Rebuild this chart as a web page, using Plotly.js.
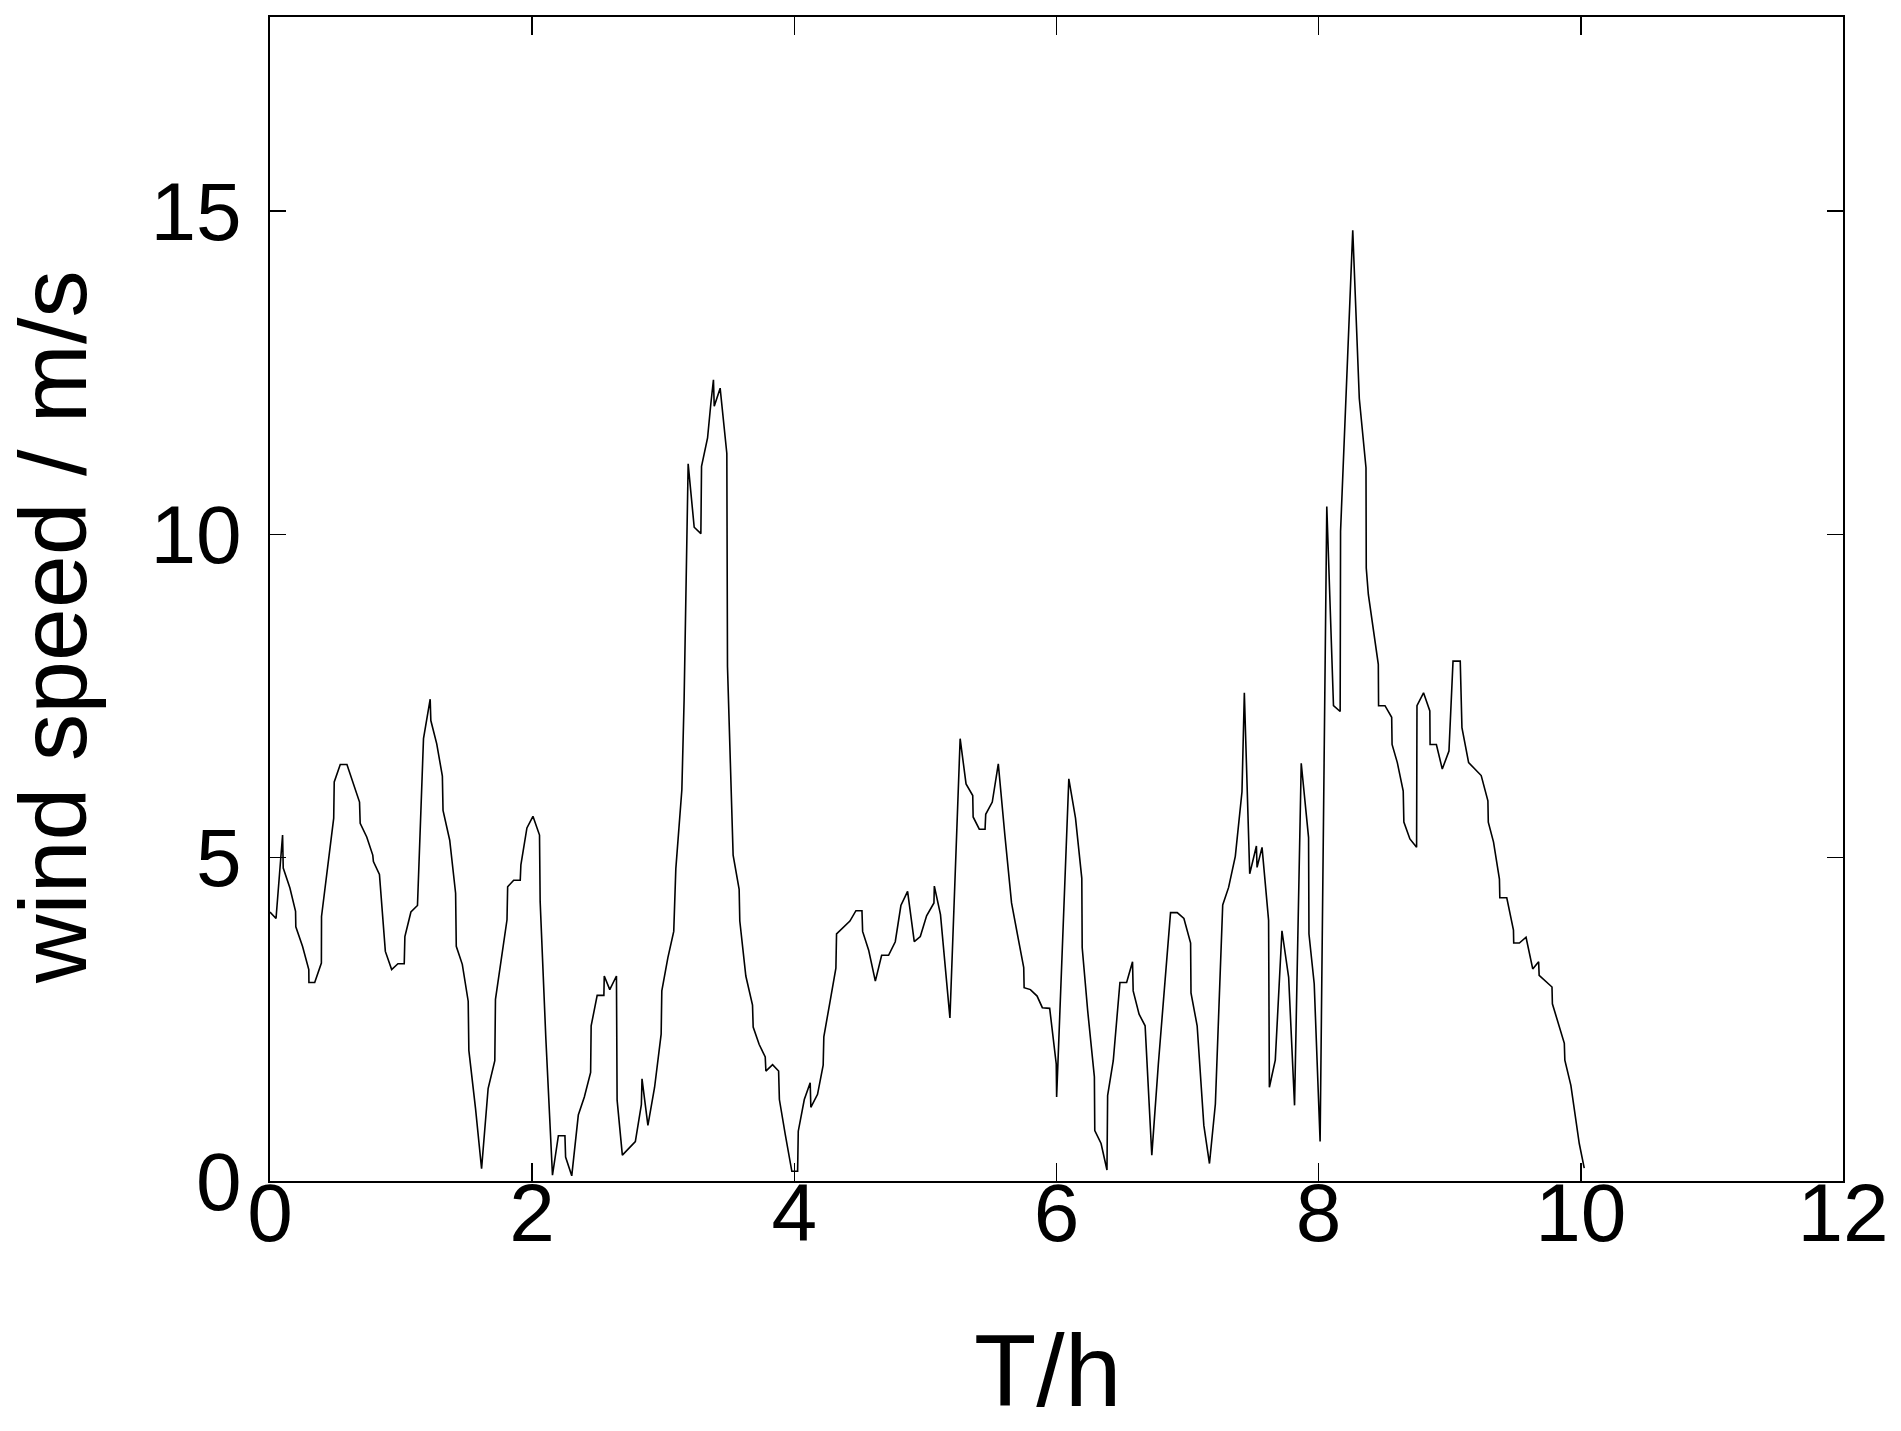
<!DOCTYPE html>
<html>
<head>
<meta charset="utf-8">
<script src="https://cdn.plot.ly/plotly-3.0.1.min.js"></script>
<style>html,body{margin:0;padding:0;background:#fff;}#chart{width:1901px;height:1431px;}</style>
</head>
<body>
<div id="chart"></div>
<script>
// Time in hours
const timeH = [
0,0.046,0.096,0.101,0.152,0.195,0.197,0.248,0.296,0.297,0.341,0.392,0.393,0.486,0.49,0.536,0.587,0.683,0.688,0.738,
0.784,0.789,0.835,0.88,0.928,0.976,1.024,1.029,1.075,1.125,1.171,1.222,1.227,1.272,1.315,1.32,1.371,1.416,1.421,1.467,
1.512,1.517,1.568,1.614,1.664,1.715,1.72,1.808,1.813,1.859,1.909,1.914,1.96,2.006,2.056,2.061,2.104,2.155,2.2,2.25,
2.255,2.302,2.352,2.398,2.446,2.45,2.496,2.547,2.55,2.592,2.643,2.648,2.688,2.787,2.833,2.838,2.883,2.934,2.984,2.989,
3.035,3.08,3.096,3.142,3.159,3.177,3.19,3.236,3.287,3.292,3.338,3.363,3.383,3.389,3.434,3.485,3.49,3.533,3.579,3.584,
3.63,3.681,3.686,3.732,3.778,3.783,3.834,3.88,3.886,3.93,3.981,4.025,4.03,4.076,4.121,4.126,4.177,4.22,4.225,4.271,
4.317,4.322,4.368,4.424,4.47,4.516,4.521,4.567,4.618,4.666,4.719,4.77,4.813,4.864,4.915,4.961,5.009,5.065,5.068,5.115,
5.187,5.265,5.31,5.361,5.364,5.411,5.455,5.46,5.51,5.556,5.606,5.657,5.707,5.75,5.753,5.801,5.852,5.892,5.948,5.998,
6.001,6.094,6.145,6.193,6.196,6.238,6.289,6.292,6.34,6.385,6.39,6.433,6.484,6.535,6.58,6.585,6.63,6.676,6.727,6.777,
6.87,6.921,6.972,7.023,7.026,7.073,7.124,7.167,7.212,7.268,7.313,7.364,7.415,7.433,7.474,7.525,7.53,7.568,7.618,7.624,
7.669,7.72,7.771,7.816,7.867,7.923,7.926,7.966,8.011,8.062,8.113,8.164,8.167,8.214,8.26,8.31,8.361,8.363,8.379,8.455,
8.457,8.506,8.557,8.56,8.6,8.645,8.65,8.696,8.747,8.75,8.8,8.848,8.85,8.898,8.943,8.994,9.025,9.08,9.093,9.144,
9.24,9.291,9.294,9.334,9.379,9.382,9.435,9.486,9.488,9.531,9.582,9.633,9.678,9.682,9.78,9.783,9.831,9.874,9.878,9.924,
9.988,10.026
];
// Wind speed in m/s
const windSpeed = [
4.16,4.06,5.35,4.84,4.53,4.17,3.93,3.63,3.27,3.07,3.07,3.37,4.09,5.61,6.17,6.44,6.44,5.86,5.53,5.32,
5.04,4.94,4.74,3.55,3.27,3.36,3.36,3.78,4.16,4.26,6.84,7.45,7.12,6.76,6.26,5.73,5.27,4.45,3.63,3.35,
2.78,2.02,1.12,0.19,1.43,1.86,2.81,4.04,4.55,4.65,4.65,4.89,5.46,5.64,5.35,4.32,2.22,0.09,0.70,0.70,
0.37,0.08,1.02,1.30,1.68,2.40,2.87,2.87,3.17,2.96,3.17,1.25,0.40,0.61,1.18,1.58,0.86,1.45,2.27,2.94,
3.45,3.86,4.83,6.05,7.43,9.26,11.09,10.11,10.01,11.05,11.49,12.02,12.39,11.98,12.26,11.25,7.96,5.04,4.51,4.02,
3.17,2.72,2.38,2.11,1.92,1.70,1.80,1.70,1.26,0.73,0.15,0.15,0.77,1.26,1.52,1.14,1.34,1.79,2.23,2.76,
3.29,3.82,3.91,4.02,4.18,4.18,3.86,3.57,3.09,3.49,3.49,3.70,4.26,4.48,3.70,3.78,4.10,4.30,4.56,4.12,
2.52,6.84,6.14,5.96,5.63,5.44,5.44,5.67,5.86,6.45,5.35,4.30,3.76,3.30,2.99,2.96,2.86,2.68,2.67,1.81,
1.30,6.22,5.61,4.68,3.61,2.63,1.61,0.78,0.58,0.17,1.32,1.86,3.07,3.07,3.39,2.94,2.58,2.40,0.40,1.81,
4.15,4.15,4.06,3.68,2.91,2.40,0.86,0.27,1.19,4.27,4.54,5.02,6.02,7.55,4.75,5.18,4.85,5.16,4.03,1.45,
1.87,3.87,3.15,1.17,6.46,5.31,3.82,3.05,0.61,10.43,7.35,7.26,10.05,12.36,14.70,12.10,11.03,9.48,9.07,7.99,
7.35,7.35,7.17,6.75,6.47,6.03,5.55,5.29,5.16,7.35,7.55,7.27,6.75,6.75,6.37,6.65,8.04,8.04,7.01,6.47,
6.27,5.88,5.55,5.24,4.67,4.38,4.38,3.88,3.68,3.68,3.77,3.28,3.39,3.18,3.00,2.74,2.43,2.13,1.87,1.48,
0.58,0.20
];
const xTickVals = [0,2,4,6,8,10,12];
const xTickText = ["0","2","4","6","8","10","12"];
const yTickVals = [0,5,10,15];
const yTickText = ["0","5","10","15"];
const xTitle = "T/h";
const yTitle = "wind speed / m/s";

const font = "Liberation Sans, Arial, Helvetica, sans-serif";

const trace = {
  x: timeH, y: windSpeed, type: "scatter", mode: "lines",
  line: {color: "#000", width: 1.6}, hoverinfo: "skip"
};

const axisCommon = {
  showline: true, linecolor: "#000", linewidth: 2, mirror: "ticks",
  ticks: "inside", tickcolor: "#000", tickwidth: 1.5,
  showgrid: false, zeroline: false, automargin: false,
  tickfont: {family: font, size: 82, color: "#000"}
};

const layout = {
  width: 1901, height: 1431,
  margin: {l: 270, r: 58, t: 17, b: 250, pad: 0},
  paper_bgcolor: "#fff", plot_bgcolor: "#fff",
  showlegend: false,
  xaxis: Object.assign({}, axisCommon, {
    range: [0, 12], tickvals: xTickVals, ticktext: xTickText, ticklen: 18,
    ticklabelstandoff: -40
  }),
  yaxis: Object.assign({}, axisCommon, {
    range: [0, 18], tickvals: yTickVals, ticktext: yTickText, ticklen: 16,
    ticklabelstandoff: 10
  }),
  annotations: [
    {text: xTitle, xref: "paper", yref: "paper", x: 0.494, y: (1181 - 1371) / 1164,
     xanchor: "center", yanchor: "middle", showarrow: false,
     font: {family: font, size: 102, color: "#000"}},
    {text: yTitle, xref: "paper", yref: "paper", x: (53 - 270) / 1573, y: (1181 - 627) / 1164,
     xanchor: "center", yanchor: "middle", showarrow: false, textangle: -90,
     font: {family: font, size: 95, color: "#000"}}
  ]
};

Plotly.newPlot("chart", [trace], layout, {staticPlot: true, displayModeBar: false});
</script>
</body>
</html>
